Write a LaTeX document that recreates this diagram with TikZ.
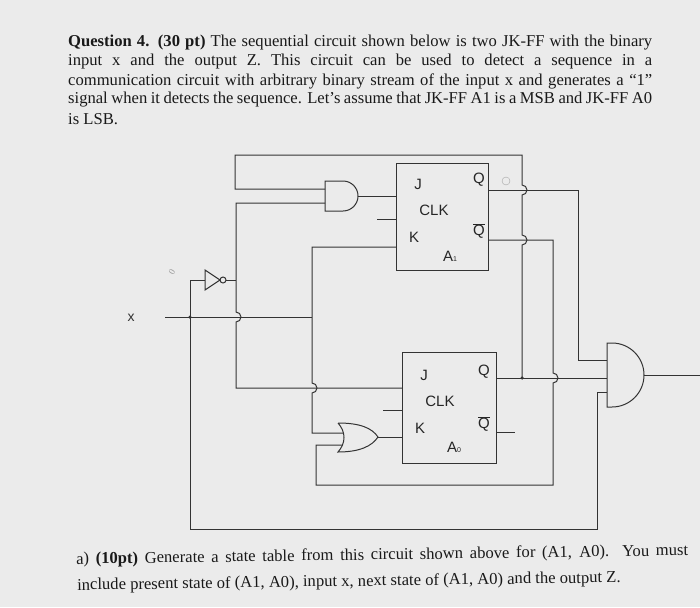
\documentclass[tikz,border=0pt]{standalone}
\usepackage{fontspec}
\setmainfont{Liberation Serif}
\newfontfamily\lsans{Liberation Sans}
\begin{document}
\begin{tikzpicture}[x=1pt,y=-1pt,
  wire/.style={line width=1pt,draw=black!80},
  box/.style={line width=1pt,draw=black!80},
  pin/.style={font=\lsans\fontsize{15}{15}\selectfont,text=black!85,inner sep=0pt},
  qtext/.style={font=\fontsize{16.6}{19}\selectfont,text=black!90,inner sep=0pt,anchor=west},
  dotc/.style={circle,fill=black!80,inner sep=0pt,minimum size=3.5pt}]
\fill[black!8] (0,0) rectangle (700,607);
\useasboundingbox (0,0) rectangle (700,607);
% text
\node[qtext] (t1) at (68,43) {\makebox[584pt][s]{\textbf{Question 4. (30 pt)} The sequential circuit shown below is two JK-FF with the binary}};
\node[qtext] (t2) at (68,62) {\makebox[584pt][s]{input x and the output Z. This circuit can be used to detect a sequence in a}};
\node[qtext] (t3) at (68,81) {\makebox[584pt][s]{communication circuit with arbitrary binary stream of the input x and generates a “1”}};
\node[qtext] (t4) at (68,100) {\makebox[584pt][s]{signal when it detects the sequence. Let’s assume that JK-FF A1 is a MSB and JK-FF A0}};
\node[qtext] (t5) at (68,119) {is LSB.};
\node[qtext,rotate=0.8] (b1) at (76,560) {\makebox[612pt][s]{a) \textbf{(10pt)} Generate a state table from this circuit shown above for (A1, A0). You must}};
\node[qtext,rotate=0.8] (b2) at (77,586) {include present state of (A1, A0), input x, next state of (A1, A0) and the output Z.};
% flip-flops
\draw[box] (396,163) rectangle (488,270);
\draw[box] (402,352) rectangle (496,463);
\node[pin] (j1) at (418,184) {J};
\node[pin] (c1) at (434,210) {CLK};
\node[pin] (k1) at (414,237) {K};
\node[pin] (a1) at (450,256) {A{\scriptsize 1}};
\node[pin] (q1) at (479,180) {Q};
\node[pin] (qb1) at (479,231) {$\overline{\mbox{Q}}$};
\node[pin] (j0) at (424,375) {J};
\node[pin] (c0) at (440,401) {CLK};
\node[pin] (k0) at (420,428) {K};
\node[pin] (a0) at (454,447) {A{\scriptsize 0}};
\node[pin] (q0) at (484,372) {Q};
\node[pin] (qb0) at (484,424) {$\overline{\mbox{Q}}$};
\node[font=\lsans\fontsize{14}{14}\selectfont,text=black!80] (xin) at (131,318) {x};
\node[text=black!40,font=\small,rotate=60] (h1) at (172,272) {0};
\draw[black!35] (506,181) circle (4);
% gates
\draw[box] (343,181) -- (325,181) -- (325,211) -- (343,211) arc[start angle=90,end angle=-90,radius=15] ;
\draw[box] (612,343) -- (607,343) -- (607,407) -- (612,407) arc[start angle=90,end angle=-90,radius=32];
\draw[box] (338,423) .. controls (346,432) and (346,443) .. (338,452)
  .. controls (360,452) and (372,446) .. (378,437)
  .. controls (372,428) and (360,423) .. (338,423);
\draw[box] (205,270) -- (205,290) -- (220,280) -- cycle;
\draw[box] (223,280) circle (3);
% wires
\draw[wire] (358,196) -- (396,196);
\draw[wire] (377,219) -- (396,219);
\draw[wire] (383,410) -- (402,410);
\draw[wire] (377,437) -- (402,437);
\draw[wire] (644,375) -- (700,375);
% top loop
\draw[wire] (325,189) -- (235,189) -- (235,155) -- (522,155) -- (522,185)
  arc[start angle=-90,end angle=90,radius=5] -- (522,235)
  arc[start angle=-90,end angle=90,radius=5] -- (522,378);
\node[dotc] (d1) at (522,378) {};
% Q1
\draw[wire] (488,190) -- (578,190) -- (578,360) -- (607,360);
% Qbar1
\draw[wire] (488,240) -- (553,240) -- (553,373) arc[start angle=-90,end angle=90,radius=5]
  -- (553,485) -- (316,485) -- (316,445) -- (342,445);
% Q0
\draw[wire] (496,378) -- (607,378);
\draw[wire] (496,432) -- (515,432);
% AND1 lower / inverter / J0
\draw[wire] (325,203) -- (236,203) -- (236,312) arc[start angle=-90,end angle=90,radius=5]
  -- (236,388) -- (402,388);
\draw[wire] (226,280) -- (236,280);
% x
\draw[wire] (165,317) -- (312,317);
\draw[wire] (396,247) -- (312,247) -- (312,383) arc[start angle=-90,end angle=90,radius=5]
  -- (312,433) -- (343,433);
\draw[wire] (205,280) -- (190,280) -- (190,529) -- (597,529) -- (597,392) -- (607,392);
\node[dotc] (d2) at (190,317) {};
\end{tikzpicture}
\end{document}
